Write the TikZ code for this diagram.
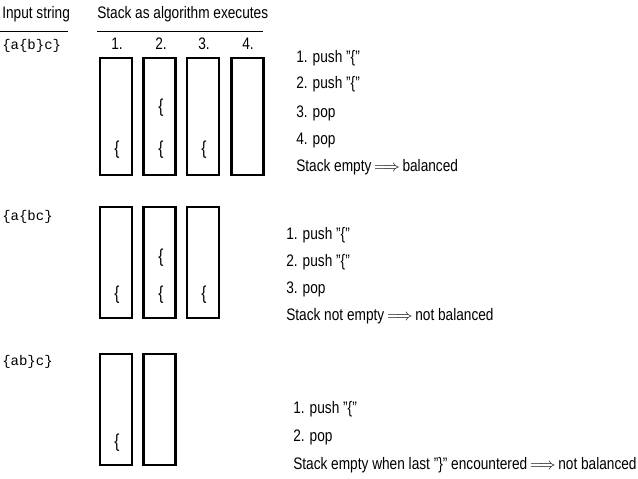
\documentclass[tikz,border=0pt]{standalone}
\usepackage{fontspec}
\setmainfont[FakeStretch=0.82]{Liberation Sans}
\setmonofont{Liberation Mono}
\newcommand{\imp}{\,\mbox{$\Longrightarrow$}\,}
\begin{document}
\begin{tikzpicture}[x=0.75pt,y=-0.75pt,
  stk/.style={draw,line width=1.6pt,minimum width=31*0.75pt,inner sep=0pt},
  txt/.style={anchor=west,inner sep=0pt,font=\fontsize{12.5}{14}\selectfont},
  br/.style={inner sep=0pt,font=\fontsize{14}{14}\selectfont},
  inp/.style={anchor=west,inner sep=0pt,font=\ttfamily\fontsize{10.5}{12}\selectfont}]
\useasboundingbox (0,0) rectangle (638,478);
\node[txt] (h1) at (2,14) {Input string};
\node[txt] (h2) at (97,14) {Stack as algorithm executes};
\draw (0,31) -- (68,31) (97,31) -- (263,31);
\foreach \n/\x in {1/117,2/161,3/204,4/248} \node[txt,anchor=center] (c\n) at (\x,44) {\n.};
% row 1
\node[inp] (i1) at (2,46) {\{a\{b\}c\}};
\foreach \n/\x in {1/116,2/159.5,3/203,4/247.5}
  \draw[stk] (\x-16,58) rectangle (\x+16,175);
\node[br] (a1) at (117,150) {\{};
\node[br] (a2) at (161,108) {\{};
\node[br] (a3) at (161,150) {\{};
\node[br] (a4) at (204,150) {\{};
\node[txt] (t11) at (296,58) {1. push "\{"};
\node[txt] (t12) at (296,84) {2. push "\{"};
\node[txt] (t13) at (296,113) {3. pop};
\node[txt] (t14) at (296,140) {4. pop};
\node[txt] (t15) at (296,167) {Stack empty\imp balanced};
% row 2
\node[inp] (i2) at (2,217) {\{a\{bc\}};
\foreach \x in {116,159.5,203}
  \draw[stk] (\x-16,207) rectangle (\x+16,318);
\node[br] (b1) at (117,295) {\{};
\node[br] (b2) at (161,258) {\{};
\node[br] (b3) at (161,295) {\{};
\node[br] (b4) at (204,295) {\{};
\node[txt] (t21) at (286,235) {1. push "\{"};
\node[txt] (t22) at (286,262) {2. push "\{"};
\node[txt] (t23) at (286,289) {3. pop};
\node[txt] (t24) at (286,316) {Stack not empty\imp not balanced};
% row 3
\node[inp] (i3) at (2,362) {\{ab\}c\}};
\foreach \x in {116,159.5}
  \draw[stk] (\x-16,354) rectangle (\x+16,465);
\node[br] (d1) at (117,443) {\{};
\node[txt] (t31) at (293,409) {1. push "\{"};
\node[txt] (t32) at (293,437) {2. pop};
\node[txt] (t33) at (293,465) {Stack empty when last "\}" encountered\imp not balanced};
\end{tikzpicture}
\end{document}
